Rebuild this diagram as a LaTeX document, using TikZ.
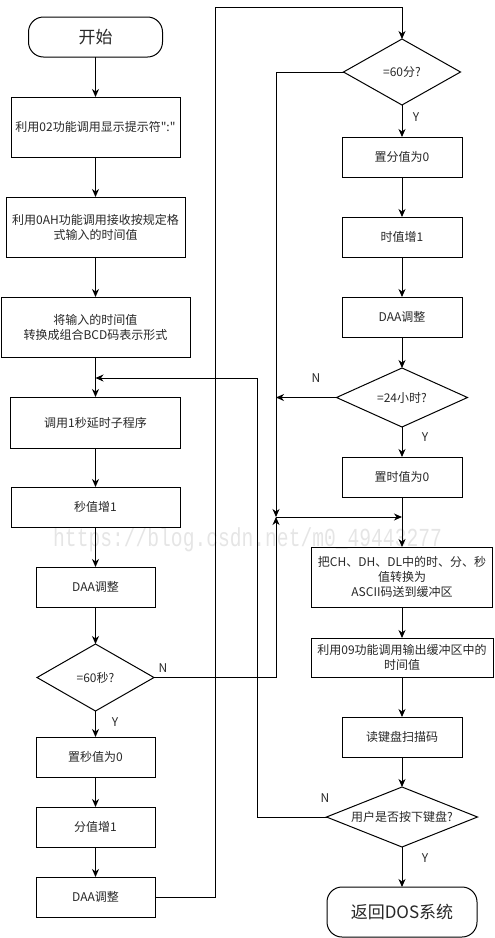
\documentclass[tikz,border=0pt]{standalone}
\usepackage{fontspec}
\newfontfamily\cjk{Noto Sans CJK SC}
\newfontfamily\wmfont{Liberation Mono}
\usetikzlibrary{arrows.meta}
\definecolor{txt}{RGB}{40,40,40}
\begin{document}
\begin{tikzpicture}[x=1pt,y=-1pt,
  base/.style={font=\cjk\fontsize{12}{15}\selectfont, text=txt, inner sep=2pt, outer sep=0pt, align=center},
  box/.style={base, draw=black, line width=1pt, fill=white},
  term/.style={base, draw=black, line width=1pt, fill=white, rounded corners=15pt, font=\cjk\fontsize{17}{20}\selectfont},
  dec/.style={base},
  line/.style={draw=black, line width=1pt},
  arr/.style={line, -{Stealth[length=8pt,width=7pt,inset=2.5pt]}},
  lab/.style={font=\cjk\fontsize{12}{14}\selectfont, text=txt, inner sep=0pt},
  wm/.style={font=\wmfont\fontsize{26}{28}\selectfont, text=black, opacity=0.1, inner sep=0pt, anchor=base west}
]
\useasboundingbox (0,0) rectangle (495,938);

% left column
\node[term, minimum width=134pt, minimum height=40pt] (start) at (95.5,37) {开始};
\node[box, minimum width=169pt, minimum height=60pt] (b1) at (95.5,127) {利用02功能调用显示提示符":"};
\node[box, minimum width=179pt, minimum height=60pt] (b2) at (95.5,227) {利用0AH功能调用接收按规定格\\式输入的时间值};
\node[box, minimum width=189pt, minimum height=60pt] (b3) at (95.5,327) {将输入的时间值\\转换成组合BCD码表示形式};
\node[box, minimum width=170pt, minimum height=51pt] (b4) at (95.5,422.5) {调用1秒延时子程序};
\node[box, minimum width=169pt, minimum height=40pt] (b5) at (95.5,507) {秒值增1};
\node[box, minimum width=119pt, minimum height=40pt] (b6) at (95.5,587) {DAA调整};
\node[dec, minimum width=117pt, minimum height=67pt] (d1) at (95.5,677.5) {=60秒?};
\node[box, minimum width=119pt, minimum height=40pt] (b7) at (95.5,757) {置秒值为0};
\node[box, minimum width=119pt, minimum height=40pt] (b8) at (95.5,827) {分值增1};
\node[box, minimum width=119pt, minimum height=40pt] (b9) at (95.5,897) {DAA调整};

% right column
\node[dec, minimum width=117pt, minimum height=66pt] (d2) at (402,72) {=60分?};
\node[box, minimum width=120pt, minimum height=40pt] (r1) at (402,157) {置分值为0};
\node[box, minimum width=120pt, minimum height=40pt] (r2) at (402,237) {时值增1};
\node[box, minimum width=120pt, minimum height=40pt] (r3) at (402,317) {DAA调整};
\node[dec, minimum width=131pt, minimum height=59pt] (d3) at (402,397.5) {=24小时?};
\node[box, minimum width=120pt, minimum height=40pt] (r4) at (402,477) {置时值为0};
\node[box, minimum width=181pt, minimum height=60pt] (r5) at (402,577) {把CH、DH、DL中的时、分、秒\\值转换为\\ASCII码送到缓冲区};
\node[box, minimum width=182pt, minimum height=39pt] (r6) at (402,657.5) {利用09功能调用输出缓冲区中的\\时间值};
\node[box, minimum width=120pt, minimum height=40pt] (r7) at (402,737) {读键盘扫描码};
\node[dec, minimum width=151pt, minimum height=60pt] (d4) at (402,817) {用户是否按下键盘?};
\node[term, minimum width=150pt, minimum height=50pt] (end) at (402,912) {返回DOS系统};

% diamonds outlines
\foreach \d in {d1,d2,d3,d4}{
  \draw[line] (\d.north) -- (\d.east) -- (\d.south) -- (\d.west) -- cycle;
}

% helper coordinates
\coordinate (j1) at (95.5,378);
\coordinate (c4) at (257,378);
\coordinate (c1) at (215,7);
\coordinate (j2) at (276,517);

% left column connectors
\draw[arr] (start) -- (b1);
\draw[arr] (b1) -- (b2);
\draw[arr] (b2) -- (b3);
\draw[arr] (b3) -- (b4);
\draw[arr] (d4.west) -| (c4) -- (j1);
\draw[arr] (b4) -- (b5);
\draw[arr] (b5) -- (b6);
\draw[arr] (b6) -- (d1);
\draw[arr] (d1.south) -- (b7);
\draw[arr] (b7) -- (b8);
\draw[arr] (b8) -- (b9);
\draw[arr] (b9.east) -| (c1) -| (d2.north);

% right column connectors
\draw[arr] (d2.west) -| (j2);
\draw[arr] (d1.east) -| (j2);
\draw[arr] (j2) -- (j2 -| r5.north);
\draw[arr] (d2.south) -- (r1);
\draw[arr] (r1) -- (r2);
\draw[arr] (r2) -- (r3);
\draw[arr] (r3) -- (d3);
\draw[arr] (d3.west) -- (d3.west -| j2);
\draw[arr] (d3.south) -- (r4);
\draw[arr] (r4) -- (r5);
\draw[arr] (r5) -- (r6);
\draw[arr] (r6) -- (r7);
\draw[arr] (r7) -- (d4);
\draw[arr] (d4.south) -- (end);

% labels
\node[lab] (ln1) at (163,668) {N};
\node[lab] (ly1) at (115,722) {Y};
\node[lab] (ly2) at (416,117) {Y};
\node[lab] (ln3) at (316,378) {N};
\node[lab] (ly3) at (425,437) {Y};
\node[lab] (ln4) at (325,798) {N};
\node[lab] (ly4) at (425,858) {Y};

% watermark
\node[wm] (wmark) at (53,546) {\scalebox{0.755}[1]{https://blog.csdn.net/m0\_49443277}};
\end{tikzpicture}
\end{document}
